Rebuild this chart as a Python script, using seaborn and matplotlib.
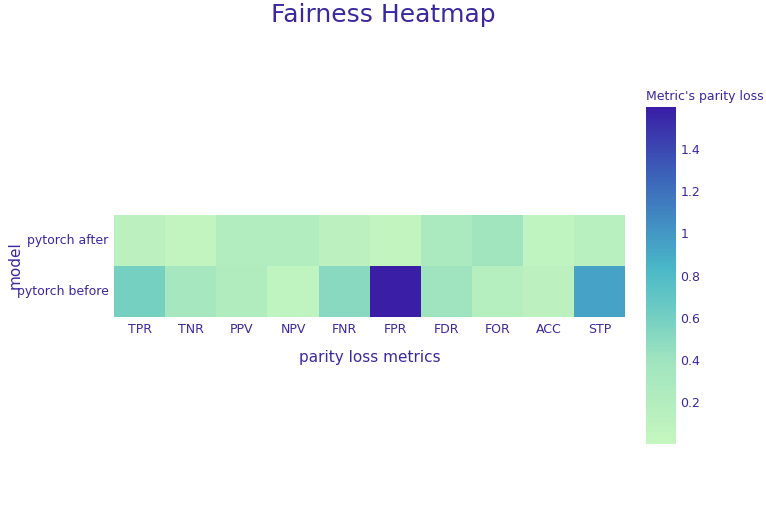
import matplotlib
matplotlib.use('Agg')
import matplotlib.pyplot as plt
import seaborn as sns
import pandas as pd
from matplotlib.colors import LinearSegmentedColormap

metrics = ['TPR', 'TNR', 'PPV', 'NPV', 'FNR', 'FPR', 'FDR', 'FOR', 'ACC', 'STP']
models = ['pytorch after', 'pytorch before']
after_vals = [0.10, 0.05, 0.20, 0.20, 0.10, 0.05, 0.28, 0.38, 0.08, 0.15]
before_vals = [0.60, 0.33, 0.22, 0.08, 0.50, 1.60, 0.40, 0.18, 0.10, 0.95]

df = pd.DataFrame([after_vals, before_vals], index=models, columns=metrics)

text_col = '#3a28a0'
cmap = LinearSegmentedColormap.from_list('parity', [
    (0.0, '#c6f6bf'), (0.25, '#9fe4bf'), (0.4, '#6ccbc3'),
    (0.52, '#4ab8c8'), (0.65, '#4290c4'), (0.8, '#3c62b8'), (1.0, '#3a1ea6')])

fig = plt.figure(figsize=(7.66, 5.25), dpi=100)
ax = fig.add_axes([0.149, 0.396, 0.667, 0.194])
cax = fig.add_axes([0.843, 0.154, 0.039, 0.642])

sns.heatmap(df, ax=ax, cbar_ax=cax, cmap=cmap, vmin=0.0, vmax=1.6,
            cbar_kws={'ticks': [0.2, 0.4, 0.6, 0.8, 1.0, 1.2, 1.4]})

ax.tick_params(length=0, labelsize=9, colors=text_col, pad=4)
ax.set_yticklabels(models, rotation=0)
ax.set_xlabel('parity loss metrics', color=text_col, fontsize=11, labelpad=10)
ax.set_ylabel('')

cax.tick_params(length=0, labelsize=9, colors=text_col)
cax.set_yticklabels(['0.2', '0.4', '0.6', '0.8', '1', '1.2', '1.4'])
for s in cax.spines.values():
    s.set_visible(False)
cax.set_title("Metric's parity loss", color=text_col, fontsize=9, loc='left', pad=5)

fig.text(0.01, 0.495, 'model', rotation=90, color=text_col, fontsize=11, va='center')
fig.suptitle('Fairness Heatmap', color=text_col, fontsize=18, y=0.995)

fig.savefig('out.png', dpi=100)
